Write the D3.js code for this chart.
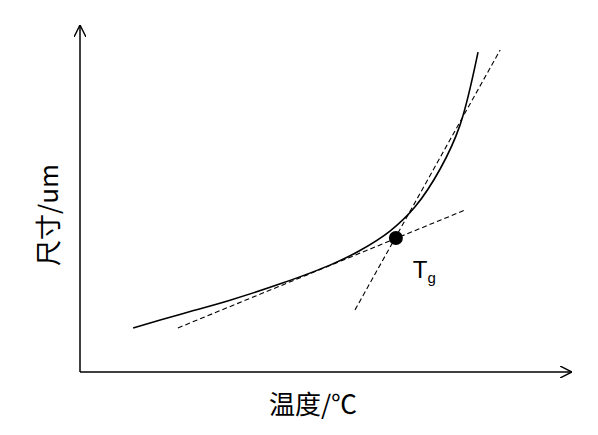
<!DOCTYPE html>
<html><head><meta charset="utf-8">
<script src="https://cdn.jsdelivr.net/npm/d3@7"></script>
<style>body{margin:0;background:#fff}</style></head>
<body><svg id="c" width="598" height="435"></svg>
<script>
const curveX=[10.8,20.3,30.5,40.7,50.8,56.9,63.0,68.1,73.2,77.2,80.9];
const curveY=[12.7,16.6,20.7,25.4,30.8,35.0,40.6,47.6,58.5,71.0,92.2];
const tangent1X=[19.9,78.3], tangent1Y=[12.7,46.7];
const tangent2X=[55.9,85.4], tangent2Y=[17.9,92.8];
const tgPoint=[64.2,38.6];
const xLabel="温度/℃", yLabel="尺寸/um";

const svg=d3.select("#c");
const x=d3.scaleLinear().domain([0,100]).range([80,572]);
const y=d3.scaleLinear().domain([0,100]).range([372,25]);
const defs=svg.append("defs");
defs.append("marker").attr("id","ar").attr("viewBox","0 0 10 10").attr("refX",10).attr("refY",5)
 .attr("markerWidth",12).attr("markerHeight",12).attr("markerUnits","userSpaceOnUse").attr("orient","auto")
 .append("path").attr("d","M0,0L10,5L0,10").attr("fill","none").attr("stroke","#000").attr("stroke-width",1.2);
svg.append("line").attr("x1",x(0)).attr("y1",y(0)).attr("x2",x(100)).attr("y2",y(0)).attr("stroke","#000").attr("stroke-width",1.5).attr("marker-end","url(#ar)");
svg.append("line").attr("x1",x(0)).attr("y1",y(0)).attr("x2",x(0)).attr("y2",y(100)).attr("stroke","#000").attr("stroke-width",1.5).attr("marker-end","url(#ar)");
const line=d3.line().x(d=>x(d[0])).y(d=>y(d[1]));
svg.append("path").attr("d",line.curve(d3.curveCatmullRom)(curveX.map((v,i)=>[v,curveY[i]]))).attr("fill","none").attr("stroke","#000").attr("stroke-width",1.6);
const l2=d3.line().x(d=>x(d[0])).y(d=>y(d[1]));
[[tangent1X,tangent1Y],[tangent2X,tangent2Y]].forEach(([a,b])=>{
 svg.append("path").attr("d",l2(a.map((v,i)=>[v,b[i]]))).attr("stroke","#000").attr("stroke-width",1.1).attr("stroke-dasharray","5,3").attr("fill","none");
});
svg.append("circle").attr("cx",x(tgPoint[0])).attr("cy",y(tgPoint[1])).attr("r",7).attr("fill","#000");
const t=svg.append("text").attr("x",x(tgPoint[0])+17).attr("y",y(tgPoint[1])+40).attr("font-family","Liberation Sans, sans-serif").attr("font-size",24);
t.append("tspan").text("T");
t.append("tspan").attr("font-size",15).attr("dy",5).text("g");
svg.append("text").attr("x",313).attr("y",414).attr("text-anchor","middle").attr("font-family","Noto Sans CJK SC, sans-serif").attr("font-size",26).text(xLabel);
svg.append("text").attr("transform","translate(58,215) rotate(-90)").attr("text-anchor","middle").attr("font-family","Noto Sans CJK SC, sans-serif").attr("font-size",26).text(yLabel);
</script></body></html>
